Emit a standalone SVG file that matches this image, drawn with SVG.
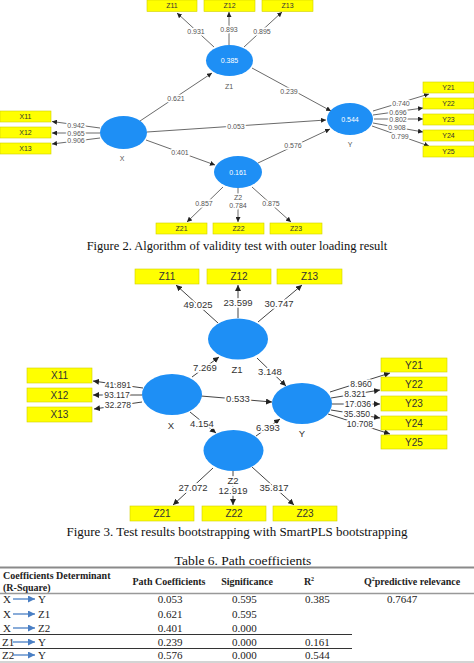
<svg xmlns="http://www.w3.org/2000/svg" width="474" height="663" viewBox="0 0 474 663">
<style>
.bg{fill:#fff}
.box{fill:#ffff00;stroke:#d0d000;stroke-width:0.6}
.nd{fill:#1e8ff5}
.e1{stroke:#444;stroke-width:0.8;fill:none;marker-end:url(#a1)}
.e2{stroke:#444;stroke-width:1;fill:none;marker-end:url(#a2)}
.t1{font-family:"Liberation Sans",Arial,sans-serif;font-size:7px;fill:#333;text-anchor:middle}
.t2{font-family:"Liberation Sans",Arial,sans-serif;font-size:10px;fill:#333;text-anchor:middle}
.v1{font-family:"Liberation Sans",Arial,sans-serif;font-size:7px;fill:#fff;text-anchor:middle}
.l1{font-family:"Liberation Sans",Arial,sans-serif;font-size:7px;fill:#555;text-anchor:middle;stroke:#fff;stroke-width:3;paint-order:stroke}
.l2{font-family:"Liberation Sans",Arial,sans-serif;font-size:9.5px;fill:#333;text-anchor:middle;stroke:#fff;stroke-width:3.5;paint-order:stroke}
.l3{font-family:"Liberation Sans",Arial,sans-serif;font-size:8.6px;fill:#333;text-anchor:middle;stroke:#fff;stroke-width:3.5;paint-order:stroke}
.cap{font-family:"Liberation Serif","Times New Roman",serif;fill:#111;text-anchor:middle}
.tb{font-family:"Liberation Serif","Times New Roman",serif;font-size:11px;fill:#222}
.th{font-family:"Liberation Serif","Times New Roman",serif;font-size:10px;font-weight:bold;fill:#222}
.ta{stroke:#4a7fc4;stroke-width:1.3;marker-end:url(#a3)}
</style>
<defs>
<marker id="a1" viewBox="0 0 10 10" refX="10" refY="5" markerWidth="5" markerHeight="5" markerUnits="userSpaceOnUse" orient="auto"><path d="M0,0 L10,5 L0,10 z" fill="#222"/></marker>
<marker id="a2" viewBox="0 0 10 10" refX="10" refY="5" markerWidth="6" markerHeight="6" markerUnits="userSpaceOnUse" orient="auto"><path d="M0,0 L10,5 L0,10 z" fill="#222"/></marker>
<marker id="a3" viewBox="0 0 10 10" refX="10" refY="5" markerWidth="8" markerHeight="7" markerUnits="userSpaceOnUse" orient="auto"><path d="M0,0 L10,5 L0,10 z" fill="#4a7fc4"/></marker>
</defs>
<rect class="bg" x="0" y="0" width="474" height="663"/>

<!-- ===== Figure 2 ===== -->
<g id="fig2-connectors">
<line class="e1" x1="214" y1="47" x2="177" y2="13"/>
<line class="e1" x1="229" y1="45" x2="229" y2="12"/>
<line class="e1" x1="244" y1="47" x2="282" y2="12"/>
<line class="e1" x1="140" y1="121" x2="212" y2="73"/>
<line class="e1" x1="252" y1="68" x2="331" y2="111"/>
<line class="e1" x1="147" y1="132" x2="326" y2="120"/>
<line class="e1" x1="146" y1="140" x2="215" y2="165"/>
<line class="e1" x1="258" y1="163" x2="330" y2="129"/>
<line class="e1" x1="223" y1="187" x2="187" y2="222"/>
<line class="e1" x1="238" y1="188" x2="238" y2="222"/>
<line class="e1" x1="252" y1="187" x2="291" y2="222"/>
<line class="e1" x1="100" y1="128" x2="52" y2="121.5"/>
<line class="e1" x1="100" y1="133" x2="52" y2="133"/>
<line class="e1" x1="100" y1="138" x2="52" y2="144"/>
<line class="e1" x1="373" y1="111" x2="429" y2="94"/>
<line class="e1" x1="373" y1="115" x2="423" y2="108"/>
<line class="e1" x1="374" y1="119" x2="423" y2="119"/>
<line class="e1" x1="373" y1="123" x2="423" y2="132"/>
<line class="e1" x1="372" y1="126" x2="429" y2="146"/>
<text class="l1" x="196" y="33.5">0.931</text>
<text class="l1" x="229" y="31.5">0.893</text>
<text class="l1" x="262" y="33.5">0.895</text>
<text class="l1" x="176" y="100.5">0.621</text>
<text class="l1" x="289" y="93.5">0.239</text>
<text class="l1" x="236" y="128.5">0.053</text>
<text class="l1" x="180" y="154.5">0.401</text>
<text class="l1" x="293" y="147.5">0.576</text>
<text class="l1" x="204" y="205.5">0.857</text>
<text class="l1" x="238" y="207.5">0.784</text>
<text class="l1" x="271" y="205.5">0.875</text>
<text class="l1" x="76" y="127.5">0.942</text>
<text class="l1" x="76" y="135.5">0.965</text>
<text class="l1" x="76" y="142.5">0.906</text>
<text class="l1" x="401" y="105.5">0.740</text>
<text class="l1" x="398" y="114.5">0.696</text>
<text class="l1" x="398" y="121.5">0.802</text>
<text class="l1" x="397" y="129.5">0.908</text>
<text class="l1" x="400" y="138.5">0.799</text>
</g>
<g id="f2-Z1"><ellipse class="nd" cx="229.5" cy="60.5" rx="23.5" ry="15.5"/><text class="v1" x="229.5" y="63">0.385</text><text class="l1" x="229" y="88.5">Z1</text></g>
<g id="f2-X"><ellipse class="nd" cx="123.5" cy="132.5" rx="23.5" ry="16.5"/><text class="l1" x="122" y="160.5">X</text></g>
<g id="f2-Y"><ellipse class="nd" cx="350" cy="119" rx="23" ry="16"/><text class="v1" x="350" y="121.5">0.544</text><text class="l1" x="350" y="146.5">Y</text></g>
<g id="f2-Z2"><ellipse class="nd" cx="238" cy="172" rx="24" ry="16"/><text class="v1" x="238" y="174.5">0.161</text><text class="l1" x="238" y="199.5">Z2</text></g>
<g id="f2-Z11"><rect class="box" x="147" y="0" width="50" height="11.5"/><text class="t1" x="172" y="8.3">Z11</text></g>
<g id="f2-Z12"><rect class="box" x="204" y="0" width="51" height="11.5"/><text class="t1" x="229.5" y="8.3">Z12</text></g>
<g id="f2-Z13"><rect class="box" x="262" y="0" width="51" height="11.5"/><text class="t1" x="287.5" y="8.3">Z13</text></g>
<g id="f2-X11"><rect class="box" x="0" y="111" width="51" height="11"/><text class="t1" x="25.5" y="119">X11</text></g>
<g id="f2-X12"><rect class="box" x="0" y="127" width="51" height="11"/><text class="t1" x="25.5" y="135">X12</text></g>
<g id="f2-X13"><rect class="box" x="0" y="143" width="51" height="11"/><text class="t1" x="25.5" y="151">X13</text></g>
<g id="f2-Y21"><rect class="box" x="423" y="82" width="51" height="11"/><text class="t1" x="448.5" y="90">Y21</text></g>
<g id="f2-Y22"><rect class="box" x="423" y="98" width="51" height="11"/><text class="t1" x="448.5" y="106">Y22</text></g>
<g id="f2-Y23"><rect class="box" x="423" y="114" width="51" height="11"/><text class="t1" x="448.5" y="122">Y23</text></g>
<g id="f2-Y24"><rect class="box" x="423" y="130" width="51" height="11"/><text class="t1" x="448.5" y="138">Y24</text></g>
<g id="f2-Y25"><rect class="box" x="423" y="146" width="51" height="11"/><text class="t1" x="448.5" y="154">Y25</text></g>
<g id="f2-Z21"><rect class="box" x="156" y="223" width="51" height="11"/><text class="t1" x="181.5" y="231">Z21</text></g>
<g id="f2-Z22"><rect class="box" x="213" y="223" width="51" height="11"/><text class="t1" x="238.5" y="231">Z22</text></g>
<g id="f2-Z23"><rect class="box" x="270" y="223" width="52" height="11"/><text class="t1" x="296" y="231">Z23</text></g>
<text class="cap" x="237" y="250" font-size="12.5">Figure 2. Algorithm of validity test with outer loading result</text>

<!-- ===== Figure 3 ===== -->
<g id="fig3-connectors">
<line class="e2" x1="218" y1="323" x2="176" y2="285"/>
<line class="e2" x1="238" y1="318" x2="238" y2="285"/>
<line class="e2" x1="258" y1="322" x2="302" y2="285"/>
<line class="e2" x1="192" y1="377" x2="219" y2="357"/>
<line class="e2" x1="257" y1="358" x2="286" y2="386"/>
<line class="e2" x1="201" y1="396" x2="272" y2="402"/>
<line class="e2" x1="190" y1="412" x2="216" y2="433"/>
<line class="e2" x1="256" y1="436" x2="280" y2="419"/>
<line class="e2" x1="213" y1="468" x2="173" y2="505"/>
<line class="e2" x1="233" y1="471" x2="233" y2="505"/>
<line class="e2" x1="252" y1="467" x2="294" y2="505"/>
<line class="e2" x1="143" y1="388" x2="93" y2="381"/>
<line class="e2" x1="142" y1="395" x2="93" y2="395"/>
<line class="e2" x1="142" y1="402" x2="94" y2="409"/>
<line class="e2" x1="330" y1="392" x2="390" y2="373"/>
<line class="e2" x1="331" y1="398" x2="380" y2="390"/>
<line class="e2" x1="332" y1="404" x2="380" y2="404"/>
<line class="e2" x1="331" y1="410" x2="380" y2="418"/>
<line class="e2" x1="328" y1="414" x2="390" y2="434"/>
<text class="l2" x="198" y="307.5">49.025</text>
<text class="l2" x="238" y="305.5">23.599</text>
<text class="l2" x="279" y="306.5">30.747</text>
<text class="l2" x="205" y="370.5">7.269</text>
<text class="l2" x="270" y="374.5">3.148</text>
<text class="l2" x="238" y="401.5">0.533</text>
<text class="l2" x="202" y="426.5">4.154</text>
<text class="l2" x="268" y="430.5">6.393</text>
<text class="l2" x="193" y="490.5">27.072</text>
<text class="l2" x="233" y="493.5">12.919</text>
<text class="l2" x="274" y="490.5">35.817</text>
<text class="l3" x="118" y="388">41.891</text>
<text class="l3" x="117" y="398">93.117</text>
<text class="l3" x="118" y="408">32.278</text>
<text class="l3" x="361" y="386.5">8.960</text>
<text class="l3" x="355" y="397">8.321</text>
<text class="l3" x="358" y="407">17.036</text>
<text class="l3" x="357" y="417">35.350</text>
<text class="l3" x="360" y="427">10.708</text>
</g>
<g id="f3-Z1"><ellipse class="nd" cx="238" cy="339" rx="30" ry="20.5"/><text class="l2" x="237" y="372.5">Z1</text></g>
<g id="f3-X"><ellipse class="nd" cx="172" cy="394.5" rx="30" ry="20.5"/><text class="l2" x="171" y="428.5">X</text></g>
<g id="f3-Y"><ellipse class="nd" cx="302" cy="403.5" rx="30" ry="20.5"/><text class="l2" x="302" y="436.5">Y</text></g>
<g id="f3-Z2"><ellipse class="nd" cx="233.5" cy="450.5" rx="30" ry="20.5"/><text class="l2" x="233" y="484">Z2</text></g>
<g id="f3-Z11"><rect class="box" x="135" y="269" width="64" height="15"/><text class="t2" x="167" y="280">Z11</text></g>
<g id="f3-Z12"><rect class="box" x="207" y="269" width="64" height="15"/><text class="t2" x="239" y="280">Z12</text></g>
<g id="f3-Z13"><rect class="box" x="277" y="269" width="65" height="15"/><text class="t2" x="309.5" y="280">Z13</text></g>
<g id="f3-X11"><rect class="box" x="27" y="368" width="65" height="15"/><text class="t2" x="59.5" y="379">X11</text></g>
<g id="f3-X12"><rect class="box" x="27" y="388" width="65" height="14"/><text class="t2" x="59.5" y="398.5">X12</text></g>
<g id="f3-X13"><rect class="box" x="27" y="407" width="65" height="15"/><text class="t2" x="59.5" y="418">X13</text></g>
<g id="f3-Y21"><rect class="box" x="381" y="358" width="66" height="14"/><text class="t2" x="414" y="368.5">Y21</text></g>
<g id="f3-Y22"><rect class="box" x="381" y="377" width="66" height="14"/><text class="t2" x="414" y="387.5">Y22</text></g>
<g id="f3-Y23"><rect class="box" x="381" y="396" width="66" height="15"/><text class="t2" x="414" y="407">Y23</text></g>
<g id="f3-Y24"><rect class="box" x="381" y="416" width="66" height="14"/><text class="t2" x="414" y="426.5">Y24</text></g>
<g id="f3-Y25"><rect class="box" x="381" y="435" width="66" height="14"/><text class="t2" x="414" y="445.5">Y25</text></g>
<g id="f3-Z21"><rect class="box" x="130" y="506" width="64" height="15"/><text class="t2" x="162" y="517">Z21</text></g>
<g id="f3-Z22"><rect class="box" x="202" y="506" width="64" height="15"/><text class="t2" x="234" y="517">Z22</text></g>
<g id="f3-Z23"><rect class="box" x="273" y="506" width="64" height="15"/><text class="t2" x="305" y="517">Z23</text></g>
<text class="cap" x="237" y="536" font-size="13">Figure 3. Test results bootstrapping with SmartPLS bootstrapping</text>

<!-- ===== Table 6 ===== -->
<g id="table6">
<text class="cap" x="243" y="565" font-size="13.5">Table 6. Path coefficients</text>
<line x1="0" y1="567.5" x2="474" y2="567.5" stroke="#8a8a8a" stroke-width="2"/>
<text class="th" x="3" y="579">Coefficients Determinant</text>
<text class="th" x="3" y="590.5">(R-Square)</text>
<text class="th" x="169" y="585" text-anchor="middle">Path Coefficients</text>
<text class="th" x="247" y="585" text-anchor="middle">Significance</text>
<text class="th" x="309" y="585" text-anchor="middle">R<tspan font-size="6" dy="-4">2</tspan></text>
<text class="th" x="412" y="585" text-anchor="middle">Q<tspan font-size="6" dy="-4">2</tspan><tspan dy="4">predictive relevance</tspan></text>
<line x1="0" y1="593.5" x2="474" y2="593.5" stroke="#999" stroke-width="1.5"/>

<text class="tb" x="3" y="603">X</text><line class="ta" x1="13" y1="599" x2="35" y2="599"/><text class="tb" x="38" y="603">Y</text>
<text class="tb" x="3" y="618">X</text><line class="ta" x1="13" y1="614" x2="35" y2="614"/><text class="tb" x="38" y="618">Z1</text>
<text class="tb" x="3" y="632">X</text><line class="ta" x1="13" y1="628" x2="35" y2="628"/><text class="tb" x="38" y="632">Z2</text>
<text class="tb" x="2" y="646">Z1</text><line class="ta" x1="13" y1="642" x2="35" y2="642"/><text class="tb" x="38" y="646">Y</text>
<text class="tb" x="2" y="659">Z2</text><line class="ta" x1="13" y1="655" x2="35" y2="655"/><text class="tb" x="38" y="659">Y</text>

<text class="tb" x="170" y="603" text-anchor="middle">0.053</text>
<text class="tb" x="170" y="618" text-anchor="middle">0.621</text>
<text class="tb" x="170" y="632" text-anchor="middle">0.401</text>
<text class="tb" x="170" y="646" text-anchor="middle">0.239</text>
<text class="tb" x="170" y="659" text-anchor="middle">0.576</text>

<text class="tb" x="232" y="603">0.595</text>
<text class="tb" x="232" y="618">0.595</text>
<text class="tb" x="232" y="632">0.000</text>
<text class="tb" x="232" y="646">0.000</text>
<text class="tb" x="232" y="659">0.000</text>

<text class="tb" x="305" y="603">0.385</text>
<text class="tb" x="305" y="646">0.161</text>
<text class="tb" x="305" y="659">0.544</text>

<text class="tb" x="402" y="603" text-anchor="middle">0.7647</text>

<line x1="0" y1="634.5" x2="352" y2="634.5" stroke="#333" stroke-width="1"/>
<line x1="0" y1="648.5" x2="352" y2="648.5" stroke="#333" stroke-width="1"/>
<rect x="0" y="661" width="474" height="2" fill="#d4d4d4"/>
</g>
</svg>
